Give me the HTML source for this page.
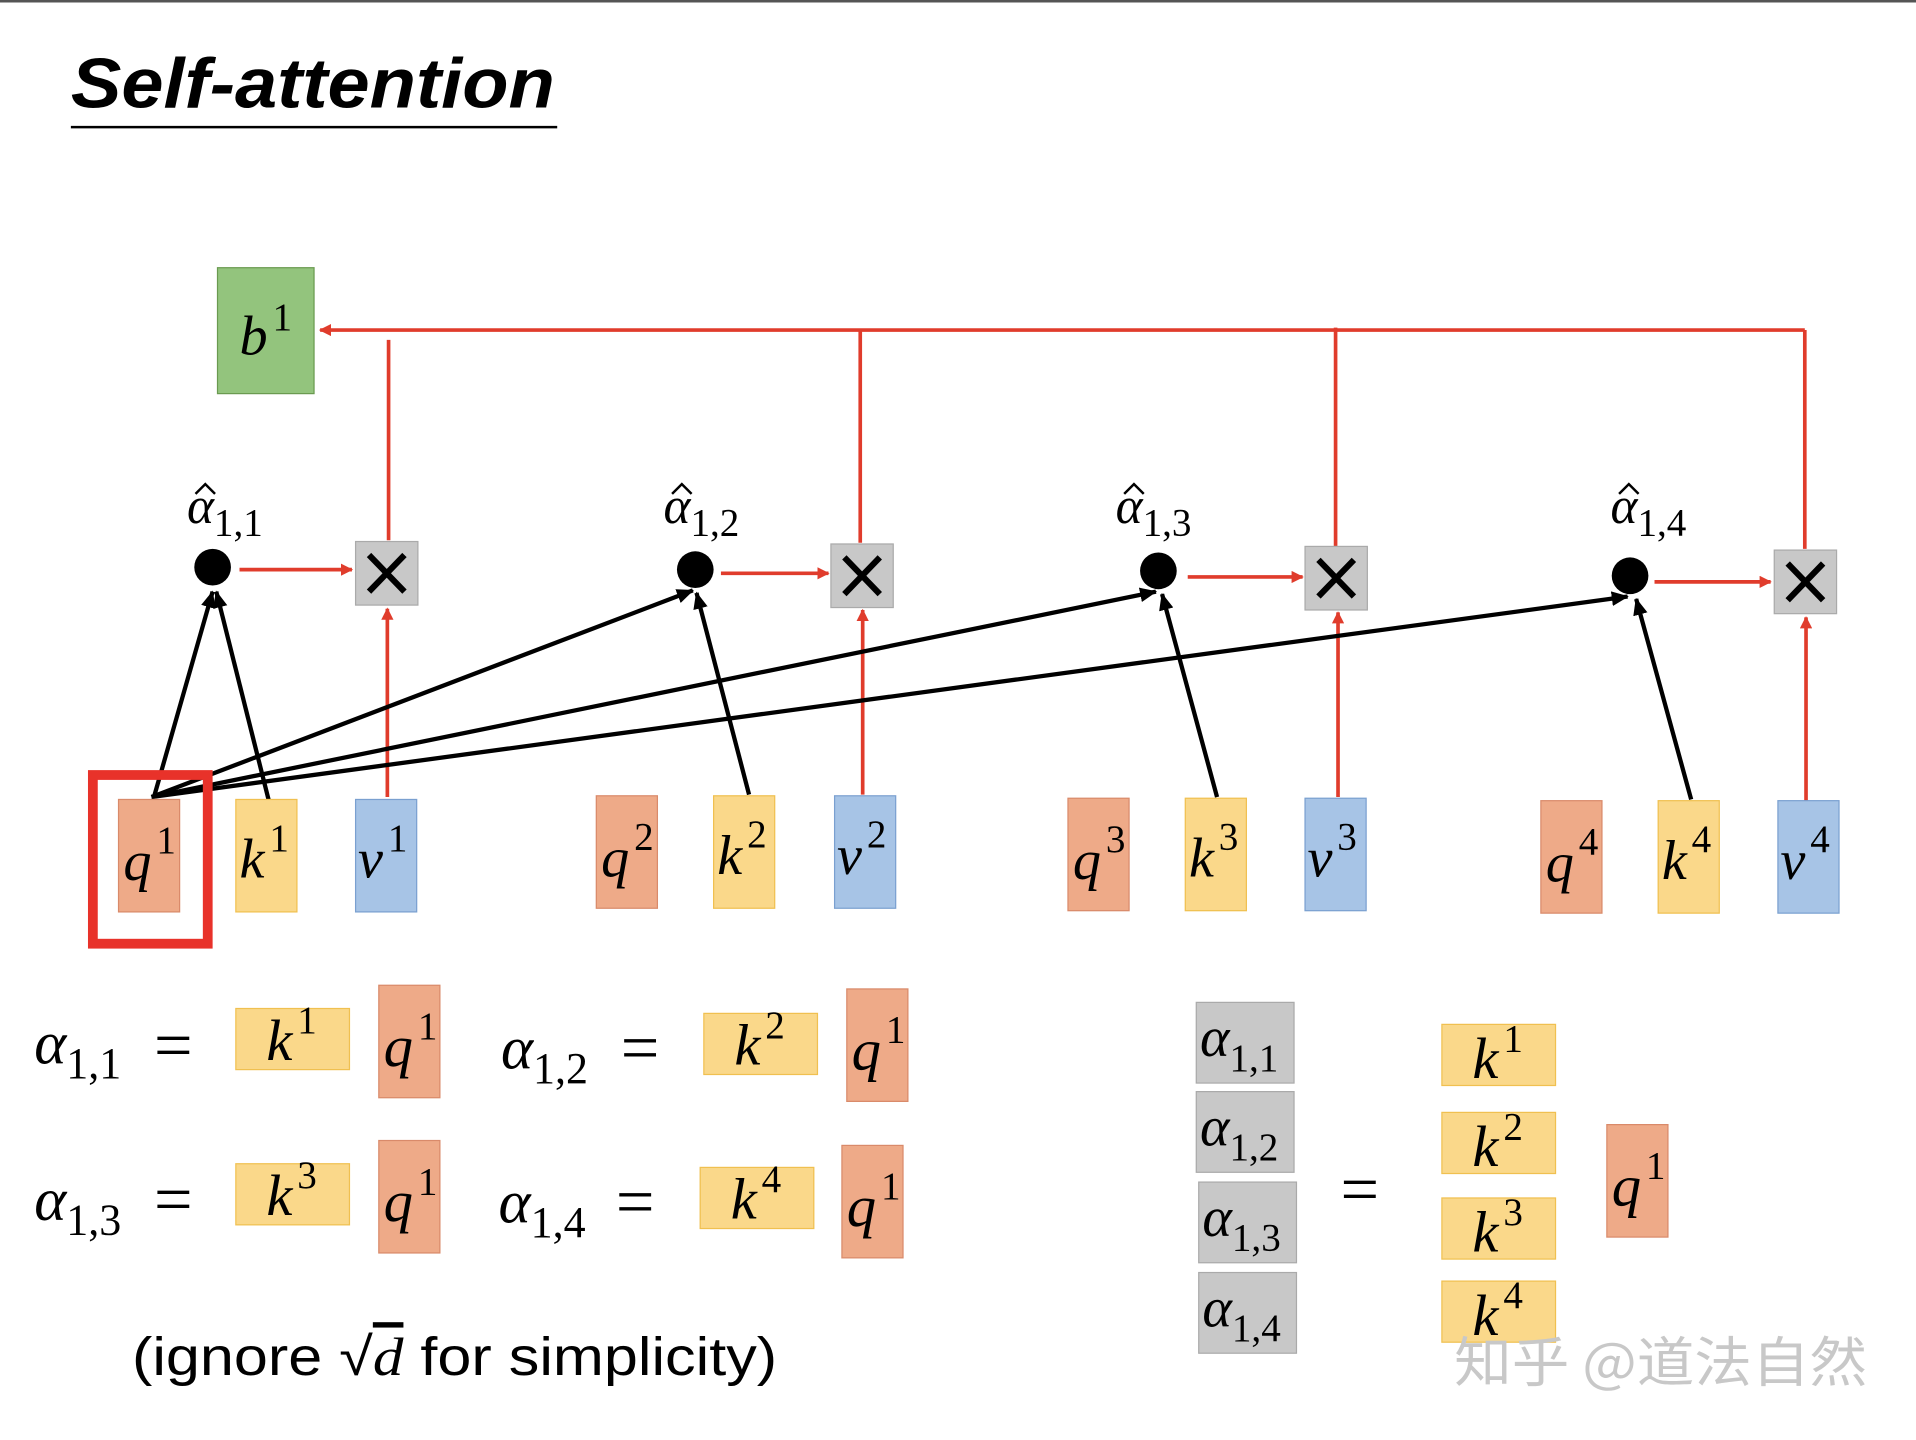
<!DOCTYPE html>
<html><head><meta charset="utf-8"><style>
html,body{margin:0;padding:0;background:#fff;}
svg{display:block;}
.m{font-family:"Liberation Serif",serif;font-style:italic;}
.s{font-family:"Liberation Serif",serif;font-style:normal;}
</style></head><body>
<svg width="1916" height="1440" viewBox="0 0 1568 1178" preserveAspectRatio="none" xmlns="http://www.w3.org/2000/svg">
<defs>
<marker id="ar" markerWidth="10" markerHeight="10" refX="9" refY="5" orient="auto" markerUnits="userSpaceOnUse"><path d="M0,0 L10,5 L0,10 z" fill="#e03c2c"/></marker>
<marker id="ab" markerWidth="14" markerHeight="12" refX="13" refY="6" orient="auto" markerUnits="userSpaceOnUse"><path d="M0,0 L14,6 L0,12 z" fill="#000"/></marker>
</defs>
<line x1="0" y1="1" x2="1568" y2="1" stroke="#555" stroke-width="2"/>
<text x="58" y="88" font-family="Liberation Sans,sans-serif" font-weight="bold" font-style="italic" font-size="58" textLength="396" lengthAdjust="spacingAndGlyphs">Self-attention</text>
<line x1="58" y1="104" x2="456" y2="104" stroke="#000" stroke-width="2"/>

<rect x="178" y="219" width="79" height="103" fill="#93c47d" stroke="#6a9a50"/>
<text x="196" y="290" class="m" font-size="46">b<tspan dy="-20" dx="4" class="s" font-size="32">1</tspan></text>

<g stroke="#e03c2c" stroke-width="3" fill="none">
<line x1="1477" y1="270" x2="262" y2="270" marker-end="url(#ar)"/>
<line x1="318" y1="278" x2="318" y2="442"/>
<line x1="704" y1="270" x2="704" y2="444"/>
<line x1="1093" y1="268" x2="1093" y2="447"/>
<line x1="1477" y1="270" x2="1477" y2="449"/>
<line x1="196" y1="466" x2="288" y2="466" marker-end="url(#ar)"/>
<line x1="590" y1="469" x2="678" y2="469" marker-end="url(#ar)"/>
<line x1="972" y1="472" x2="1066" y2="472" marker-end="url(#ar)"/>
<line x1="1354" y1="476" x2="1449" y2="476" marker-end="url(#ar)"/>
<line x1="317" y1="652" x2="317" y2="498" marker-end="url(#ar)"/>
<line x1="706" y1="650" x2="706" y2="499" marker-end="url(#ar)"/>
<line x1="1095" y1="652" x2="1095" y2="501" marker-end="url(#ar)"/>
<line x1="1478" y1="655" x2="1478" y2="505" marker-end="url(#ar)"/>
</g>

<g fill="#c8c8c8" stroke="#aaa">
<rect x="291" y="443" width="51" height="52"/><rect x="680" y="445" width="51" height="52"/>
<rect x="1068" y="447" width="51" height="52"/><rect x="1452" y="450" width="51" height="52"/>
</g>
<g stroke="#000" stroke-width="5">
<path d="M302,454 L331,484 M331,454 L302,484"/>
<path d="M691,456 L720,486 M720,456 L691,486"/>
<path d="M1079,458 L1108,488 M1108,458 L1079,488"/>
<path d="M1463,461 L1492,491 M1492,461 L1463,491"/>
</g>

<g fill="#000"><circle cx="174" cy="464" r="15"/><circle cx="569" cy="466" r="15"/><circle cx="948" cy="467" r="15"/><circle cx="1334" cy="471" r="15"/></g>

<g class="m" font-size="42">
<text x="153" y="428">α<tspan class="s" font-size="32" dy="10">1,1</tspan></text>
<text x="543" y="428">α<tspan class="s" font-size="32" dy="10">1,2</tspan></text>
<text x="913" y="428">α<tspan class="s" font-size="32" dy="10">1,3</tspan></text>
<text x="1318" y="428">α<tspan class="s" font-size="32" dy="10">1,4</tspan></text>
</g>
<g stroke="#000" stroke-width="2" fill="none">
<path d="M160,404 L168,396 L176,404"/>
<path d="M550,404 L558,396 L566,404"/>
<path d="M920,404 L928,396 L936,404"/>
<path d="M1325,404 L1333,396 L1341,404"/>
</g>

<g stroke="#000" stroke-width="3.5">
<line x1="126" y1="652" x2="174" y2="484" marker-end="url(#ab)"/>
<line x1="220" y1="655" x2="177" y2="484" marker-end="url(#ab)"/>
<line x1="124" y1="652" x2="567" y2="483" marker-end="url(#ab)"/>
<line x1="613" y1="650" x2="570" y2="485" marker-end="url(#ab)"/>
<line x1="124" y1="652" x2="946" y2="484" marker-end="url(#ab)"/>
<line x1="996" y1="652" x2="951" y2="486" marker-end="url(#ab)"/>
<line x1="124" y1="652" x2="1332" y2="488" marker-end="url(#ab)"/>
<line x1="1384" y1="654" x2="1339" y2="490" marker-end="url(#ab)"/>
</g>

<g>
<rect x="97" y="654" width="50" height="92" fill="#eeaa88" stroke="#d98a6a"/>
<rect x="193" y="654" width="50" height="92" fill="#fad88a" stroke="#f0c050"/>
<rect x="291" y="654" width="50" height="92" fill="#a7c4e6" stroke="#7aa0d0"/>
<rect x="488" y="651" width="50" height="92" fill="#eeaa88" stroke="#d98a6a"/>
<rect x="584" y="651" width="50" height="92" fill="#fad88a" stroke="#f0c050"/>
<rect x="683" y="651" width="50" height="92" fill="#a7c4e6" stroke="#7aa0d0"/>
<rect x="874" y="653" width="50" height="92" fill="#eeaa88" stroke="#d98a6a"/>
<rect x="970" y="653" width="50" height="92" fill="#fad88a" stroke="#f0c050"/>
<rect x="1068" y="653" width="50" height="92" fill="#a7c4e6" stroke="#7aa0d0"/>
<rect x="1261" y="655" width="50" height="92" fill="#eeaa88" stroke="#d98a6a"/>
<rect x="1357" y="655" width="50" height="92" fill="#fad88a" stroke="#f0c050"/>
<rect x="1455" y="655" width="50" height="92" fill="#a7c4e6" stroke="#7aa0d0"/>
</g>
<g class="m" font-size="46">
<text x="101" y="720">q<tspan class="s" font-size="32" dx="4" dy="-22">1</tspan></text>
<text x="196" y="718">k<tspan class="s" font-size="32" dx="4" dy="-22">1</tspan></text>
<text x="293" y="718">v<tspan class="s" font-size="32" dx="4" dy="-22">1</tspan></text>
<text x="492" y="717">q<tspan class="s" font-size="32" dx="4" dy="-22">2</tspan></text>
<text x="587" y="715">k<tspan class="s" font-size="32" dx="4" dy="-22">2</tspan></text>
<text x="685" y="715">v<tspan class="s" font-size="32" dx="4" dy="-22">2</tspan></text>
<text x="878" y="719">q<tspan class="s" font-size="32" dx="4" dy="-22">3</tspan></text>
<text x="973" y="717">k<tspan class="s" font-size="32" dx="4" dy="-22">3</tspan></text>
<text x="1070" y="717">v<tspan class="s" font-size="32" dx="4" dy="-22">3</tspan></text>
<text x="1265" y="721">q<tspan class="s" font-size="32" dx="4" dy="-22">4</tspan></text>
<text x="1360" y="719">k<tspan class="s" font-size="32" dx="4" dy="-22">4</tspan></text>
<text x="1457" y="719">v<tspan class="s" font-size="32" dx="4" dy="-22">4</tspan></text>
</g>
<rect x="76" y="634" width="94" height="138" fill="none" stroke="#e8322a" stroke-width="8"/>

<g>
<rect x="193" y="825" width="93" height="50" fill="#fad88a" stroke="#f0c050"/>
<rect x="310" y="806" width="50" height="92" fill="#eeaa88" stroke="#d98a6a"/>
<rect x="576" y="829" width="93" height="50" fill="#fad88a" stroke="#f0c050"/>
<rect x="693" y="809" width="50" height="92" fill="#eeaa88" stroke="#d98a6a"/>
<rect x="193" y="952" width="93" height="50" fill="#fad88a" stroke="#f0c050"/>
<rect x="310" y="933" width="50" height="92" fill="#eeaa88" stroke="#d98a6a"/>
<rect x="573" y="955" width="93" height="50" fill="#fad88a" stroke="#f0c050"/>
<rect x="689" y="937" width="50" height="92" fill="#eeaa88" stroke="#d98a6a"/>
</g>
<g class="m" font-size="50">
<text x="28" y="870">α<tspan class="s" font-size="36" dy="12">1,1</tspan></text>
<text x="410" y="874">α<tspan class="s" font-size="36" dy="12">1,2</tspan></text>
<text x="28" y="998">α<tspan class="s" font-size="36" dy="12">1,3</tspan></text>
<text x="408" y="1000">α<tspan class="s" font-size="36" dy="12">1,4</tspan></text>
</g>
<g class="s" font-size="56">
<text x="126" y="874">=</text><text x="508" y="876">=</text>
<text x="126" y="1000">=</text><text x="504" y="1002">=</text>
</g>
<g class="m" font-size="48">
<text x="218" y="867">k<tspan class="s" font-size="32" dx="4" dy="-22">1</tspan></text>
<text x="314" y="872">q<tspan class="s" font-size="32" dx="4" dy="-22">1</tspan></text>
<text x="601" y="871">k<tspan class="s" font-size="32" dx="4" dy="-22">2</tspan></text>
<text x="697" y="875">q<tspan class="s" font-size="32" dx="4" dy="-22">1</tspan></text>
<text x="218" y="994">k<tspan class="s" font-size="32" dx="4" dy="-22">3</tspan></text>
<text x="314" y="999">q<tspan class="s" font-size="32" dx="4" dy="-22">1</tspan></text>
<text x="598" y="997">k<tspan class="s" font-size="32" dx="4" dy="-22">4</tspan></text>
<text x="693" y="1003">q<tspan class="s" font-size="32" dx="4" dy="-22">1</tspan></text>
</g>
<text x="108" y="1125" font-family="Liberation Sans,sans-serif" font-size="44" textLength="528" lengthAdjust="spacingAndGlyphs">(ignore √<tspan class="m" text-decoration="overline">d</tspan> for simplicity)</text>

<g fill="#c8c8c8" stroke="#aaa">
<rect x="979" y="820" width="80" height="66"/><rect x="979" y="893" width="80" height="66"/>
<rect x="981" y="967" width="80" height="66"/><rect x="981" y="1041" width="80" height="66"/>
</g>
<g class="m" font-size="46">
<text x="982" y="864">α<tspan class="s" font-size="32" dy="12">1,1</tspan></text>
<text x="982" y="937">α<tspan class="s" font-size="32" dy="12">1,2</tspan></text>
<text x="984" y="1011">α<tspan class="s" font-size="32" dy="12">1,3</tspan></text>
<text x="984" y="1085">α<tspan class="s" font-size="32" dy="12">1,4</tspan></text>
</g>
<text x="1097" y="992" class="s" font-size="56">=</text>
<g fill="#fad88a" stroke="#f0c050">
<rect x="1180" y="838" width="93" height="50"/><rect x="1180" y="910" width="93" height="50"/>
<rect x="1180" y="980" width="93" height="50"/><rect x="1180" y="1048" width="93" height="50"/>
</g>
<rect x="1315" y="920" width="50" height="92" fill="#eeaa88" stroke="#d98a6a"/>
<g class="m" font-size="48">
<text x="1205" y="882">k<tspan class="s" font-size="32" dx="4" dy="-22">1</tspan></text>
<text x="1205" y="954">k<tspan class="s" font-size="32" dx="4" dy="-22">2</tspan></text>
<text x="1205" y="1024">k<tspan class="s" font-size="32" dx="4" dy="-22">3</tspan></text>
<text x="1205" y="1092">k<tspan class="s" font-size="32" dx="4" dy="-22">4</tspan></text>
<text x="1319" y="986">q<tspan class="s" font-size="32" dx="4" dy="-22">1</tspan></text>
</g>
<text x="1190" y="1130" font-family="'Noto Sans CJK SC',sans-serif" font-size="44" fill="#c8c8c8" textLength="338" lengthAdjust="spacingAndGlyphs">知乎 @道法自然</text>
</svg>
</body></html>
